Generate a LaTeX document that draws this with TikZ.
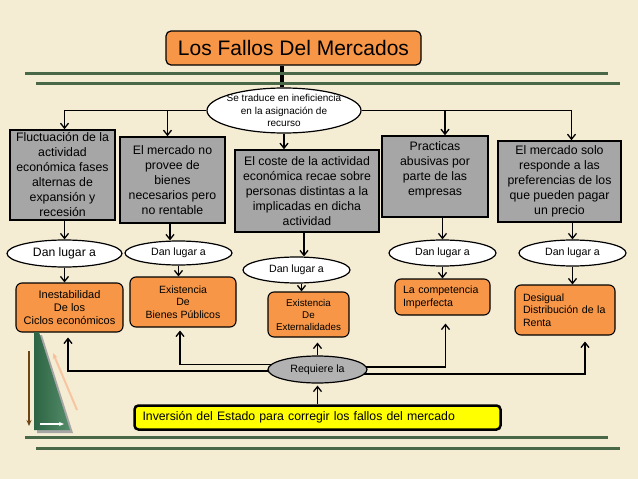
\documentclass[tikz,border=0pt]{standalone}
\usepackage{fontspec}
\setmainfont{Liberation Sans}
\usetikzlibrary{shapes.geometric,arrows.meta,backgrounds}
\definecolor{bgc}{RGB}{245,236,212}
\definecolor{boxorange}{RGB}{247,150,70}
\definecolor{boxgray}{RGB}{166,166,166}
\definecolor{reqgray}{RGB}{178,178,178}
\definecolor{yel}{RGB}{255,255,0}
\definecolor{linegreen}{RGB}{72,104,72}
\definecolor{trigreen}{RGB}{45,100,68}
\definecolor{trigreenl}{RGB}{85,140,105}
\definecolor{brownarr}{RGB}{110,68,20}
\definecolor{salmon}{RGB}{250,185,145}
\newcommand\fsz[2]{\fontsize{#1}{#2}\selectfont}
\begin{document}
\begin{tikzpicture}[x=1pt,y=-1pt,
  gbox/.style={draw,line width=1.6pt,fill=boxgray,inner sep=0pt,align=center,font=\fsz{12.3}{15}},
  dl/.style={ellipse,draw,line width=1.2pt,fill=white,inner sep=-40pt,align=center,font=\fsz{10.6}{12}},
  ob/.style={draw,line width=1.1pt,rounded corners=6pt,fill=boxorange,inner sep=0pt,align=center,font=\fsz{10.6}{13}},
  arr/.style={line width=1.3pt,-{Straight Barb[length=5pt,width=8pt]}},
  gline/.style={draw=linegreen,line width=3pt}]
\useasboundingbox (0,0) rectangle (638,479);

% decorative lines
\draw[gline] (25,73) -- (608,73);
\draw[gline] (36,83) -- (620,83);
\draw[gline] (25,437) -- (608,437);
\draw[gline] (36,448) -- (620,448);

% title
\node[draw,line width=1.2pt,rounded corners=5pt,fill=boxorange,minimum width=255pt,minimum height=34pt,inner sep=0pt,font=\fsz{21}{24}] (title) at (293.5,48) {Los Fallos Del Mercados};

% top ellipse
\node[dl,minimum width=154pt,minimum height=45pt,font=\fsz{10}{12.5}] (top) at (284,110.5) {\raisebox{-1.5pt}{\parbox{140pt}{\centering Se traduce en ineficiencia\\en la asignación de\\recurso}}};

% gray boxes
\node[gbox,minimum width=105pt,minimum height=90pt] (b1) at (62.5,175) {Fluctuación de la\\actividad\\económica fases\\alternas de\\expansión y\\recesión};
\node[gbox,minimum width=105pt,minimum height=86pt] (b2) at (172.5,180) {El mercado no\\provee de\\bienes\\necesarios pero\\no rentable};
\node[gbox,minimum width=144pt,minimum height=82pt] (b3) at (307,191) {El coste de la actividad\\económica recae sobre\\personas distintas a la\\implicadas en dicha\\actividad};
\node[gbox,minimum width=106pt,minimum height=81pt] (b4) at (435,176.5) {\parbox[c][70pt][t]{104pt}{\centering Practicas\\abusivas por\\parte de las\\empresas}};
\node[gbox,minimum width=123pt,minimum height=81pt] (b5) at (559.5,181.5) {El mercado solo\\responde a las\\preferencias de los\\que pueden pagar\\un precio};

% dan lugar a
\node[dl,minimum width=115pt,minimum height=27pt,font=\fsz{12.2}{14}] (d1) at (64.5,253.5) {Dan lugar a};
\node[dl,minimum width=107pt,minimum height=24pt] (d2) at (178.5,253) {Dan lugar a};
\node[dl,minimum width=107pt,minimum height=26pt] (d3) at (296.5,270) {Dan lugar a};
\node[dl,minimum width=107pt,minimum height=26pt] (d4) at (442.5,253) {Dan lugar a};
\node[dl,minimum width=107pt,minimum height=26pt] (d5) at (572.5,253) {Dan lugar a};

% orange boxes
\node[ob,minimum width=107pt,minimum height=49pt,font=\fsz{11}{13}] (o1) at (69.5,307.5) {Inestabilidad\\De los\\Ciclos económicos};
\node[ob,minimum width=106pt,minimum height=50pt,font=\fsz{10.5}{12.5}] (o2) at (183,302) {Existencia\\De\\Bienes Públicos};
\node[ob,minimum width=81pt,minimum height=45pt,font=\fsz{9.8}{12}] (o3) at (308.5,314.5) {Existencia\\De\\Externalidades};
\node[ob,minimum width=95pt,minimum height=36pt,text width=79pt,align=left] (o4) at (442.5,297) {La competencia\\Imperfecta};
\node[ob,minimum width=100pt,minimum height=50pt,text width=84pt,align=left,font=\fsz{10.6}{12.5}] (o5) at (565,310) {Desigual\\Distribución de la\\Renta};

% requiere la
\node[dl,fill=reqgray,minimum width=99pt,minimum height=27pt] (req) at (317.5,369.5) {Requiere la};

% yellow box
\node[draw,line width=2.5pt,rounded corners=4pt,fill=yel,minimum width=366pt,minimum height=24pt,inner sep=0pt,text width=350pt,align=left,font=\fsz{12.3}{15}] (yel) at (317.5,417.5) {Inversión del Estado para corregir los fallos del mercado};

% connectors (behind nodes)
\begin{scope}[on background layer]
\fill[bgc] (0,0) rectangle (638,479);
\draw[line width=3.2pt] ([xshift=-2pt]top.north) -- ([xshift=-2pt]top.north |- title.south);
\draw[arr] (top.west) -| ([xshift=2pt]b1.north);
\draw[arr] ([xshift=-5pt]b2.north |- top.west) -- ([xshift=-5pt]b2.north);
\draw[arr] (top.east) -| ([xshift=12pt]b5.north);
\draw[arr] ([xshift=10pt]b4.north |- top.east) -- ([xshift=10pt]b4.north);
\draw[arr] (top.south) -- (top.south |- b3.north);
\draw[arr] (b1.south -| d1.north) -- (d1.north);
\draw[arr] ([xshift=-2.5pt]b2.south) -- ([xshift=-2.5pt]b2.south |- d2.north);
\draw[arr] ([xshift=-3pt]b3.south) -- ([xshift=-3pt]b3.south |- d3.north);
\draw[arr] (b4.south -| d4.north) -- (d4.north);
\draw[arr] (b5.south -| d5.north) -- (d5.north);
\draw[arr] (d1.south) -- (d1.south |- o1.north);
\draw[arr] (d2.south) -- (d2.south |- o2.north);
\draw[arr] ([xshift=5pt]d3.south) -- ([xshift=5pt]d3.south |- o3.north);
\draw[arr] (d4.south) -- (d4.south |- o4.north);
\draw[arr] (d5.south) -- (d5.south |- o5.north);
\draw[arr,shorten >=5pt] ([yshift=-1.5pt]req.center) -| ([xshift=-1.5pt]o1.south);
\draw[arr,shorten >=3pt] ([yshift=5pt]req.center) -| ([xshift=-3pt]o2.south);
\draw[arr,shorten >=8pt] ([yshift=2.5pt]req.center) -| ([xshift=3pt]o4.south);
\draw[arr,shorten >=6pt] ([yshift=-4.5pt]req.center) -| ([xshift=20pt]o5.south);
\draw[arr,shorten >=5pt] (req.north) -- (req.north |- o3.south);
\draw[arr,shorten >=2pt] (yel.north -| req.south) -- (req.south);
\end{scope}

% decorative triangle and arrows
\fill[black!35] (37,335) -- (42,335) -- (73,433) -- (37,433) -- cycle;
\shade[left color=trigreen,right color=trigreenl] (34,332) -- (39,332) -- (70,430) -- (34,430) -- cycle;
\draw[brownarr,line width=1.5pt,-{Stealth[length=6pt,width=5pt]}] (29,351) -- (29,426);
\draw[white,line width=1.2pt,-{Stealth[length=5pt,width=4pt]}] (40,424) -- (64,424);
\draw[salmon,line width=2pt,opacity=0.75,-{Stealth[length=6pt,width=5pt]}] (77,410) -- (53,353);
\end{tikzpicture}
\end{document}
